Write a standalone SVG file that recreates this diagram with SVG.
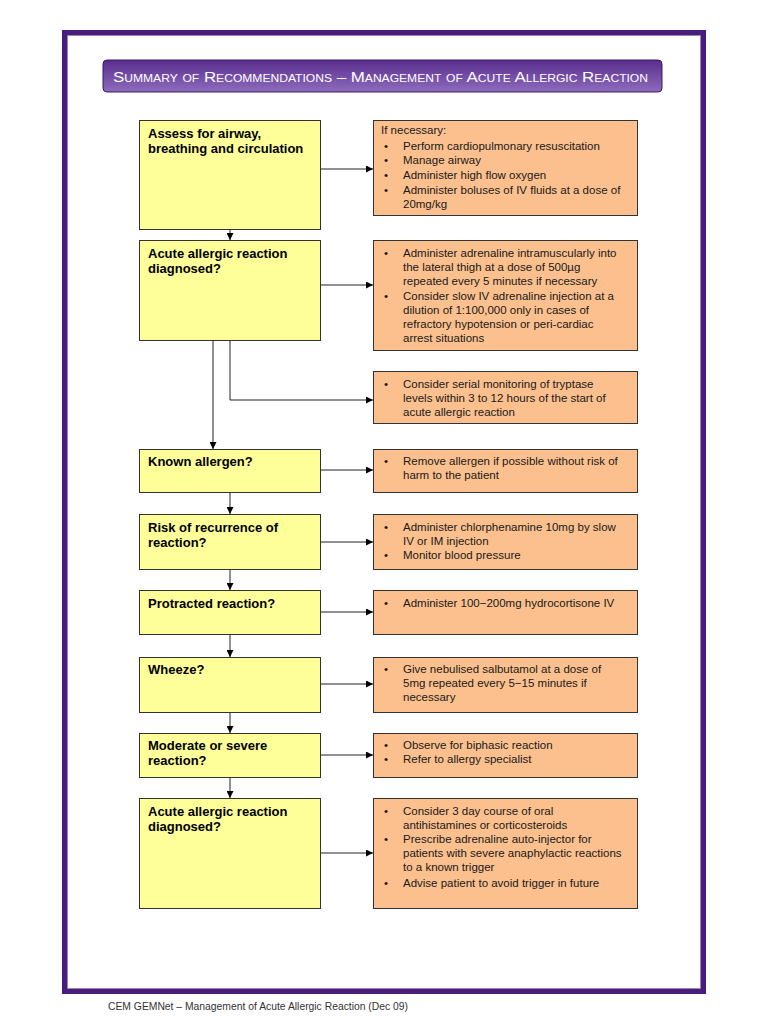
<svg xmlns="http://www.w3.org/2000/svg" width="768" height="1024" viewBox="0 0 768 1024">
<defs>
<linearGradient id="tg" x1="0" y1="0" x2="0" y2="1">
<stop offset="0" stop-color="#5a2d8e"/>
<stop offset="1" stop-color="#8c6cbd"/>
</linearGradient>
<marker id="ah" viewBox="0 0 10 10" refX="10" refY="5" markerWidth="7" markerHeight="7" markerUnits="userSpaceOnUse" orient="auto">
<path d="M0,0 L10,5 L0,10 z" fill="#000"/>
</marker>
<style>
.q{fill:#ffff99;stroke:#333;stroke-width:1}
.a{fill:#fbc08e;stroke:#333;stroke-width:1}
.qt{font-family:"Liberation Sans",Arial,sans-serif;font-size:13px;font-weight:bold;fill:#000}
.at{font-family:"Liberation Sans",Arial,sans-serif;font-size:11.5px;fill:#1a1a1a}
.c{fill:none;stroke:#222;stroke-width:1}
</style>
</defs>
<rect x="0" y="0" width="768" height="1024" fill="#fff"/>
<rect x="64.5" y="32.5" width="639" height="959" fill="none" stroke="#4a1e78" stroke-width="5"/>
<rect x="67.5" y="35.5" width="633" height="953" fill="none" stroke="#9a7fc8" stroke-width="1"/>

<g id="title">
<rect x="103" y="60" width="559" height="32" rx="4" fill="url(#tg)" stroke="#3a1a5e" stroke-width="1"/>
<text x="113" y="82" font-family="Liberation Sans,Arial,sans-serif" font-size="14" fill="#fff" style="font-variant:small-caps" textLength="535" lengthAdjust="spacingAndGlyphs">Summary of Recommendations – Management of Acute Allergic Reaction</text>
</g>

<g id="connectors">
<line class="c" x1="230" y1="229" x2="230" y2="240" marker-end="url(#ah)"/>
<line class="c" x1="213" y1="340" x2="213" y2="449" marker-end="url(#ah)"/>
<polyline class="c" points="230,340 230,400 373,400" marker-end="url(#ah)"/>
<line class="c" x1="230" y1="492" x2="230" y2="514" marker-end="url(#ah)"/>
<line class="c" x1="230" y1="569" x2="230" y2="590" marker-end="url(#ah)"/>
<line class="c" x1="230" y1="634" x2="230" y2="657" marker-end="url(#ah)"/>
<line class="c" x1="230" y1="712" x2="230" y2="733" marker-end="url(#ah)"/>
<line class="c" x1="230" y1="777" x2="230" y2="798" marker-end="url(#ah)"/>
<line class="c" x1="320" y1="169" x2="373" y2="169" marker-end="url(#ah)"/>
<line class="c" x1="320" y1="285" x2="373" y2="285" marker-end="url(#ah)"/>
<line class="c" x1="320" y1="470" x2="373" y2="470" marker-end="url(#ah)"/>
<line class="c" x1="320" y1="542" x2="373" y2="542" marker-end="url(#ah)"/>
<line class="c" x1="320" y1="612" x2="373" y2="612" marker-end="url(#ah)"/>
<line class="c" x1="320" y1="684" x2="373" y2="684" marker-end="url(#ah)"/>
<line class="c" x1="320" y1="755" x2="373" y2="755" marker-end="url(#ah)"/>
<line class="c" x1="320" y1="853" x2="373" y2="853" marker-end="url(#ah)"/>
</g>

<g id="q1"><rect class="q" x="139.5" y="120.5" width="181" height="109"/>
<text class="qt" x="148" y="138">Assess for airway,</text>
<text class="qt" x="148" y="153">breathing and circulation</text></g>
<g id="a1"><rect class="a" x="373.5" y="120.5" width="264" height="95"/>
<text class="at" x="381" y="134">If necessary:</text>
<text class="at" x="384" y="150">•</text><text class="at" x="403" y="150">Perform cardiopulmonary resuscitation</text>
<text class="at" x="384" y="164">•</text><text class="at" x="403" y="164">Manage airway</text>
<text class="at" x="384" y="179">•</text><text class="at" x="403" y="179">Administer high flow oxygen</text>
<text class="at" x="384" y="194">•</text><text class="at" x="403" y="194">Administer boluses of IV fluids at a dose of</text>
<text class="at" x="403" y="208">20mg/kg</text></g>

<g id="q2"><rect class="q" x="139.5" y="240.5" width="181" height="100"/>
<text class="qt" x="148" y="258">Acute allergic reaction</text>
<text class="qt" x="148" y="273">diagnosed?</text></g>
<g id="a2"><rect class="a" x="373.5" y="240.5" width="264" height="110"/>
<text class="at" x="384" y="257">•</text><text class="at" x="403" y="257">Administer adrenaline intramuscularly into</text>
<text class="at" x="403" y="271">the lateral thigh at a dose of 500µg</text>
<text class="at" x="403" y="285">repeated every 5 minutes if necessary</text>
<text class="at" x="384" y="300">•</text><text class="at" x="403" y="300">Consider slow IV adrenaline injection at a</text>
<text class="at" x="403" y="314">dilution of 1:100,000 only in cases of</text>
<text class="at" x="403" y="328">refractory hypotension or peri-cardiac</text>
<text class="at" x="403" y="342">arrest situations</text></g>

<g id="a3"><rect class="a" x="373.5" y="371.5" width="264" height="52"/>
<text class="at" x="384" y="388">•</text><text class="at" x="403" y="388">Consider serial monitoring of tryptase</text>
<text class="at" x="403" y="402">levels within 3 to 12 hours of the start of</text>
<text class="at" x="403" y="416">acute allergic reaction</text></g>

<g id="q3"><rect class="q" x="139.5" y="449.5" width="181" height="43"/>
<text class="qt" x="148" y="466">Known allergen?</text></g>
<g id="a4"><rect class="a" x="373.5" y="449.5" width="264" height="43"/>
<text class="at" x="384" y="465">•</text><text class="at" x="403" y="465">Remove allergen if possible without risk of</text>
<text class="at" x="403" y="479">harm to the patient</text></g>

<g id="q4"><rect class="q" x="139.5" y="514.5" width="181" height="55"/>
<text class="qt" x="148" y="532">Risk of recurrence of</text>
<text class="qt" x="148" y="547">reaction?</text></g>
<g id="a5"><rect class="a" x="373.5" y="514.5" width="264" height="55"/>
<text class="at" x="384" y="531">•</text><text class="at" x="403" y="531">Administer chlorphenamine 10mg by slow</text>
<text class="at" x="403" y="545">IV or IM injection</text>
<text class="at" x="384" y="559">•</text><text class="at" x="403" y="559">Monitor blood pressure</text></g>

<g id="q5"><rect class="q" x="139.5" y="590.5" width="181" height="44"/>
<text class="qt" x="148" y="608">Protracted reaction?</text></g>
<g id="a6"><rect class="a" x="373.5" y="590.5" width="264" height="44"/>
<text class="at" x="384" y="607">•</text><text class="at" x="403" y="607">Administer 100−200mg hydrocortisone IV</text></g>

<g id="q6"><rect class="q" x="139.5" y="657.5" width="181" height="55"/>
<text class="qt" x="148" y="674">Wheeze?</text></g>
<g id="a7"><rect class="a" x="373.5" y="657.5" width="264" height="55"/>
<text class="at" x="384" y="673">•</text><text class="at" x="403" y="673">Give nebulised salbutamol at a dose of</text>
<text class="at" x="403" y="687">5mg repeated every 5−15 minutes if</text>
<text class="at" x="403" y="701">necessary</text></g>

<g id="q7"><rect class="q" x="139.5" y="733.5" width="181" height="44"/>
<text class="qt" x="148" y="750">Moderate or severe</text>
<text class="qt" x="148" y="765">reaction?</text></g>
<g id="a8"><rect class="a" x="373.5" y="733.5" width="264" height="44"/>
<text class="at" x="384" y="749">•</text><text class="at" x="403" y="749">Observe for biphasic reaction</text>
<text class="at" x="384" y="763">•</text><text class="at" x="403" y="763">Refer to allergy specialist</text></g>

<g id="q8"><rect class="q" x="139.5" y="798.5" width="181" height="110"/>
<text class="qt" x="148" y="816">Acute allergic reaction</text>
<text class="qt" x="148" y="831">diagnosed?</text></g>
<g id="a9"><rect class="a" x="373.5" y="798.5" width="264" height="110"/>
<text class="at" x="384" y="815">•</text><text class="at" x="403" y="815">Consider 3 day course of oral</text>
<text class="at" x="403" y="829">antihistamines or corticosteroids</text>
<text class="at" x="384" y="843">•</text><text class="at" x="403" y="843">Prescribe adrenaline auto-injector for</text>
<text class="at" x="403" y="857">patients with severe anaphylactic reactions</text>
<text class="at" x="403" y="871">to a known trigger</text>
<text class="at" x="384" y="887">•</text><text class="at" x="403" y="887">Advise patient to avoid trigger in future</text></g>

<text x="108" y="1010" font-family="Liberation Sans,Arial,sans-serif" font-size="10.5" fill="#333" textLength="300" lengthAdjust="spacingAndGlyphs">CEM GEMNet – Management of Acute Allergic Reaction (Dec 09)</text>
</svg>
